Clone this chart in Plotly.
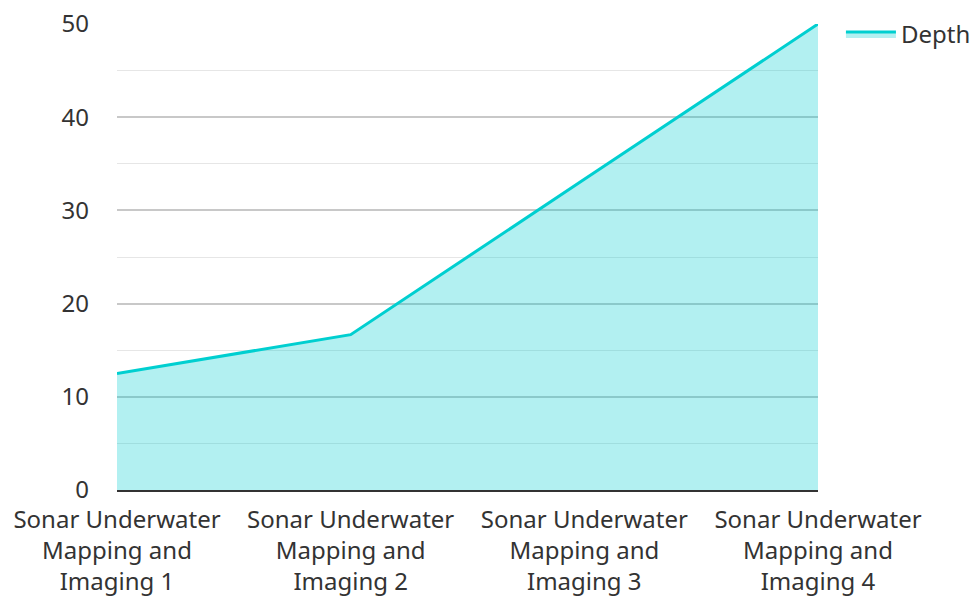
import plotly.graph_objects as go

categories = ["Sonar Underwater<br>Mapping and<br>Imaging 1",
              "Sonar Underwater<br>Mapping and<br>Imaging 2",
              "Sonar Underwater<br>Mapping and<br>Imaging 3",
              "Sonar Underwater<br>Mapping and<br>Imaging 4"]
depth = [12.5, 16.67, 33.33, 50]
y_ticks = [0, 10, 20, 30, 40, 50]

FONT = "Noto Sans"
FS = 24

fig = go.Figure()
fig.add_trace(go.Scatter(
    x=categories, y=depth, name="Depth", mode="lines",
    line=dict(color="#00cfd0", width=3),
    fill="tozeroy", fillcolor="rgba(0,206,209,0.3)",
    showlegend=True,
))

fig.update_layout(
    width=975, height=597,
    margin=dict(l=117, r=157, t=24, b=107, autoexpand=False),
    paper_bgcolor="white", plot_bgcolor="white",
    font=dict(family=FONT, size=FS, color="#333333"),
    showlegend=True,
    legend=dict(x=0.8625, y=0.98, xanchor="left", yanchor="top",
                xref="container", yref="container",
                font=dict(size=FS, color="#333333"), bgcolor="rgba(0,0,0,0)",
                itemwidth=50, tracegroupgap=0),
    xaxis=dict(
        type="category", range=[0, 3], showgrid=False, automargin=False,
        showline=True, linecolor="#333333", linewidth=2,
        ticks="", tickfont=dict(size=FS, color="#333333"),
        ticklabelstandoff=7,
        zeroline=False,
    ),
    yaxis=dict(
        range=[0, 50], tickvals=y_ticks, showgrid=True, automargin=False,
        gridcolor="#c8c8c8", gridwidth=1.5,
        minor=dict(dtick=5, showgrid=True, gridcolor="#e6e6e6", gridwidth=1),
        zeroline=False, showline=False, ticks="",
        ticklabelstandoff=27,
        tickfont=dict(size=FS, color="#333333"),
    ),
)

fig.write_html("out.html")
